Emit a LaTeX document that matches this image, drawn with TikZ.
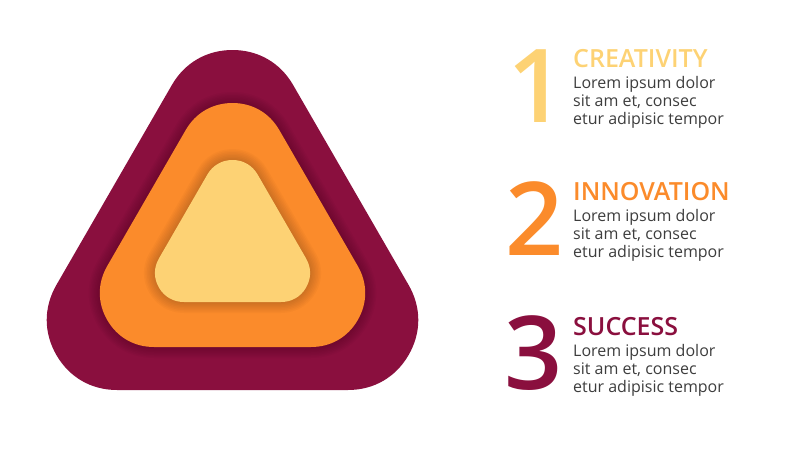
\documentclass[tikz,border=0pt]{standalone}
\usepackage{fontspec}
\setmainfont{Open Sans}
\IfFontExistsTF{Open Sans SemiBold}
  {\newfontfamily\semifont{Open Sans SemiBold}}
  {\IfFontExistsTF{Open Sans Semibold}
    {\newfontfamily\semifont{Open Sans Semibold}}
    {\newfontfamily\semifont{Open Sans}\def\semifont{\bfseries}}}
\usetikzlibrary{positioning}

\definecolor{wine}{HTML}{8A0F3E}
\definecolor{tangerine}{HTML}{FB8B2B}
\definecolor{butter}{HTML}{FDD274}
\definecolor{ink}{HTML}{3D3D3D}

\tikzset{
  tri/.style={line join=round, line width=#1},
  glow/.style={black, opacity=0.025, yshift=-7pt},
  digit/.style={anchor=base, inner sep=0pt, font=\semifont\fontsize{102}{102}\selectfont},
  title/.style={anchor=base west, inner sep=0pt, font=\semifont\fontsize{25}{25}\selectfont},
  blurb/.style={anchor=base west, inner sep=0pt, align=left, text=ink,
    font=\fontsize{16}{18}\selectfont},
}

\begin{document}
\begin{tikzpicture}[x=1pt, y=-1pt]
  \useasboundingbox (0,0) rectangle (800,450);

  % corner points of the three layers
  \coordinate (o1) at (117,320);
  \coordinate (o2) at (348,320);
  \coordinate (o3) at (232.5,120);
  \coordinate (m1) at (154,293);
  \coordinate (m2) at (311,293);
  \coordinate (m3) at (232.5,157);
  \coordinate (i1) at (184,273);
  \coordinate (i2) at (281,273);
  \coordinate (i3) at (232.5,189);

  % outer layer
  \filldraw[tri=140pt, draw=wine, fill=wine] (o1) -- (o2) -- (o3) -- cycle;

  % middle layer with soft shadow
  \foreach \k in {8,...,1}
    \filldraw[tri={106pt+3pt*\k}, glow] (m1) -- (m2) -- (m3) -- cycle;
  \filldraw[tri=108pt, draw=tangerine, fill=tangerine] (m1) -- (m2) -- (m3) -- cycle;

  % inner layer with soft shadow
  \foreach \k in {8,...,1}
    \filldraw[tri={56pt+3pt*\k}, glow] (i1) -- (i2) -- (i3) -- cycle;
  \filldraw[tri=58pt, draw=butter, fill=butter] (i1) -- (i2) -- (i3) -- cycle;

  % legend
  \node[digit, text=butter] (n1) at (537,122) {1};
  \node[title, text=butter] (h1) at (573,67) {CREATIVITY};
  \node[blurb] (b1) at (573,124) {Lorem ipsum dolor\\sit am et, consec\\etur adipisic tempor};

  \node[digit, text=tangerine] (n2) at (535,255) {2};
  \node[title, text=tangerine] (h2) at (573,200) {INNOVATION};
  \node[blurb] (b2) at (573,257) {Lorem ipsum dolor\\sit am et, consec\\etur adipisic tempor};

  \node[digit, text=wine] (n3) at (534,389) {3};
  \node[title, text=wine] (h3) at (573,335) {SUCCESS};
  \node[blurb] (b3) at (573,392) {Lorem ipsum dolor\\sit am et, consec\\etur adipisic tempor};
\end{tikzpicture}
\end{document}
